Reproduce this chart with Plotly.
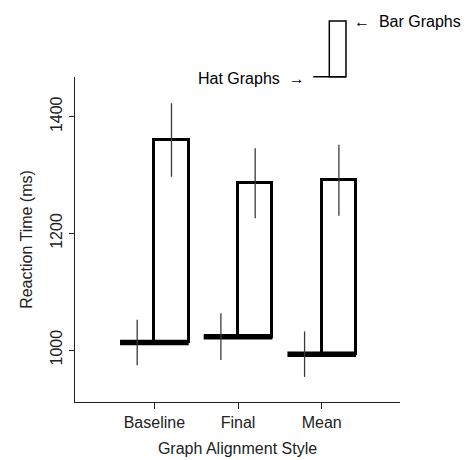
import plotly.graph_objects as go

# data
styles = ["Baseline", "Final", "Mean"]
hat_rt = [1013, 1023, 993]        # hat graph value (ms)
hat_err = [39, 40, 39]            # +/- error on the hat
bar_rt = [1360, 1286, 1291]       # bar graph value (ms)
bar_err = [63, 60, 61]            # +/- error on the bar
y_ticks = [1000, 1200, 1400]

FONT = "Liberation Sans, Arial, sans-serif"
half = 0.41
pos = list(range(len(styles)))

fig = go.Figure()

# bars: sit on the hat and rise to the bar value
fig.add_trace(go.Bar(
    x=pos, base=hat_rt, y=[b - h for b, h in zip(bar_rt, hat_rt)],
    width=half, offset=0,
    marker=dict(color="white", line=dict(color="black", width=3)),
    showlegend=False, hoverinfo="skip",
))

# hats: thick horizontal strokes across both halves
hx, hy = [], []
for p, h in zip(pos, hat_rt):
    hx += [p - half, p + half, None]
    hy += [h, h, None]
fig.add_trace(go.Scatter(
    x=hx, y=hy, mode="lines", line=dict(color="black", width=5.5),
    showlegend=False, hoverinfo="skip",
))

# error bars
err_style = dict(type="data", symmetric=True, width=0, thickness=1.3, color="#3a3a3a")
fig.add_trace(go.Scatter(
    x=[p - half / 2 for p in pos], y=hat_rt, mode="markers",
    marker=dict(size=1, opacity=0),
    error_y=dict(array=hat_err, **err_style),
    showlegend=False, hoverinfo="skip",
))
fig.add_trace(go.Scatter(
    x=[p + half / 2 for p in pos], y=bar_rt, mode="markers",
    marker=dict(size=1, opacity=0),
    error_y=dict(array=bar_err, **err_style),
    showlegend=False, hoverinfo="skip",
))

# hand-drawn key above the plot
fig.add_shape(type="rect", xref="paper", yref="paper",
              x0=0.7825, x1=0.8338, y0=1.001, y1=1.172,
              line=dict(color="black", width=1.5), fillcolor="white")
fig.add_shape(type="line", xref="paper", yref="paper",
              x0=0.733, x1=0.8338, y0=1.001, y1=1.001,
              line=dict(color="black", width=1.5))
fig.add_annotation(xref="paper", yref="paper", x=0.715, y=0.994,
                   text="Hat Graphs  →", showarrow=False,
                   xanchor="right", yanchor="middle",
                   font=dict(size=16, color="black", family=FONT))
fig.add_annotation(xref="paper", yref="paper", x=0.853, y=1.170,
                   text="←  Bar Graphs", showarrow=False,
                   xanchor="left", yanchor="middle",
                   font=dict(size=16, color="black", family=FONT))

fig.update_xaxes(
    range=[-0.948, 2.935], tickvals=pos, ticktext=styles,
    showline=True, linecolor="#222", linewidth=1.3,
    ticks="outside", ticklen=6, tickcolor="#222", tickwidth=1.3,
    showgrid=False, zeroline=False, automargin=False,
    tickfont=dict(size=16, color="#222", family=FONT),
    title=dict(text="Graph Alignment Style", font=dict(size=16, color="#222", family=FONT),
               standoff=12),
)
fig.update_yaxes(
    range=[911, 1468], tickvals=y_ticks,
    showline=True, linecolor="#222", linewidth=1.3,
    ticks="outside", ticklen=5, tickcolor="#222", tickwidth=1.3,
    showgrid=False, zeroline=False, tickangle=-90, automargin=False,
    tickfont=dict(size=16, color="#222", family=FONT),
    title=dict(text="Reaction Time (ms)", font=dict(size=16, color="#222", family=FONT),
               standoff=11),
)

# page body adds an 8px margin, so the figure is a bit smaller than the window
fig.update_layout(
    template="none",
    width=466, height=452,
    margin=dict(l=67, r=74, t=69, b=58),
    plot_bgcolor="white", paper_bgcolor="white",
    font=dict(family=FONT, color="#222"),
    bargap=0,
)

fig.write_html("out.html")
